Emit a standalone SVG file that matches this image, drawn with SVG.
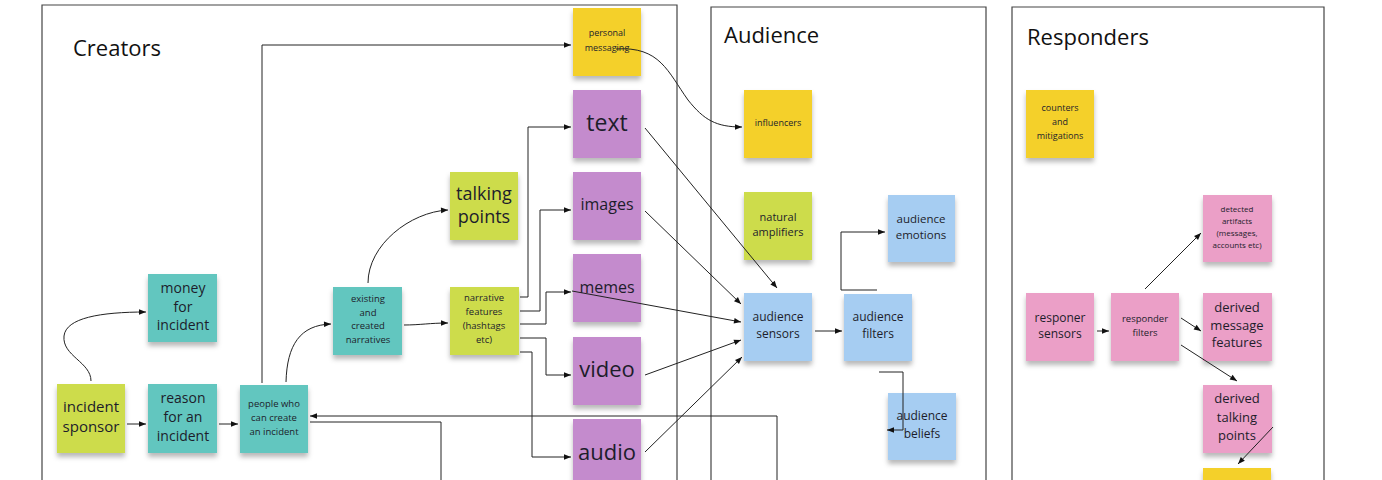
<svg xmlns="http://www.w3.org/2000/svg" width="1382" height="480" viewBox="0 0 1382 480">
<defs>
<filter id="sh" x="-20%" y="-20%" width="140%" height="150%">
<feDropShadow dx="0" dy="4" stdDeviation="2.5" flood-color="#000" flood-opacity="0.28"/>
</filter>
<marker id="ar" viewBox="0 0 10 10" refX="10" refY="5" markerWidth="10" markerHeight="7" markerUnits="userSpaceOnUse" orient="auto">
<path d="M0,1 L10,5 L0,9 z" fill="#111"/>
</marker>
</defs>
<style>
.frame{fill:none;stroke:#444;stroke-width:1.2}
.title{font-family:"Open Sans","Liberation Sans",sans-serif;font-size:22px;fill:#111}
.n rect{filter:url(#sh)}
.n text{font-family:"Open Sans","Liberation Sans",sans-serif;fill:#1d1d2b;text-anchor:middle;dominant-baseline:central}
.teal{fill:#62c6bf}
.green{fill:#cddc4c}
.yellow{fill:#f4d02c}
.purple{fill:#c48bcd}
.blue{fill:#a6cdf2}
.pink{fill:#eb9fc7}
.c path{fill:none;stroke:#222;stroke-width:1}
.c .a{marker-end:url(#ar)}
</style>
<rect width="1382" height="480" fill="#fff"/>
<g id="frames">
<path class="frame" d="M42,481 V5 H677 V481"/>
<path class="frame" d="M711,481 V7 H986 V481"/>
<path class="frame" d="M1012,481 V7 H1324 V481"/>
<text class="title" x="73" y="56">Creators</text>
<text class="title" x="724" y="43">Audience</text>
<text class="title" x="1027" y="45">Responders</text>
</g>
<g id="nodes" class="n">
<g id="money"><rect class="teal" x="148" y="274" width="69" height="68"/><text font-size="14"><tspan x="183" y="287">money</tspan><tspan x="183" y="306">for</tspan><tspan x="183" y="324">incident</tspan></text></g>
<g id="sponsor"><rect class="green" x="57" y="384" width="68" height="69"/><text font-size="15"><tspan x="91" y="406">incident</tspan><tspan x="91" y="426">sponsor</tspan></text></g>
<g id="reason"><rect class="teal" x="148" y="384" width="69" height="69"/><text font-size="14"><tspan x="183" y="397">reason</tspan><tspan x="183" y="416">for an</tspan><tspan x="183" y="435">incident</tspan></text></g>
<g id="people"><rect class="teal" x="240" y="385" width="68" height="68"/><text font-size="9.5"><tspan x="274" y="403">people who</tspan><tspan x="274" y="417">can create</tspan><tspan x="274" y="431">an incident</tspan></text></g>
<g id="narratives"><rect class="teal" x="333" y="287" width="69" height="68"/><text font-size="9.5"><tspan x="368" y="298">existing</tspan><tspan x="368" y="312">and</tspan><tspan x="368" y="325">created</tspan><tspan x="368" y="339">narratives</tspan></text></g>
<g id="talking"><rect class="green" x="450" y="172" width="68" height="68"/><text font-size="18"><tspan x="484" y="193">talking</tspan><tspan x="484" y="216">points</tspan></text></g>
<g id="features"><rect class="green" x="450" y="287" width="69" height="68"/><text font-size="9.5"><tspan x="484" y="297">narrative</tspan><tspan x="484" y="311">features</tspan><tspan x="484" y="325">(hashtags</tspan><tspan x="484" y="339">etc)</tspan></text></g>
<g id="personal"><rect class="yellow" x="573" y="8" width="68" height="68"/><text font-size="9"><tspan x="607" y="32">personal</tspan><tspan x="607" y="47">messaging</tspan></text></g>
<g id="text"><rect class="purple" x="573" y="90" width="68" height="68"/><text x="607" y="122" font-size="23">text</text></g>
<g id="images"><rect class="purple" x="573" y="172" width="68" height="68"/><text x="607" y="204" font-size="16">images</text></g>
<g id="memes"><rect class="purple" x="573" y="254" width="68" height="68"/><text x="607" y="287" font-size="16">memes</text></g>
<g id="video"><rect class="purple" x="573" y="337" width="68" height="68"/><text x="607" y="368" font-size="22">video</text></g>
<g id="audio"><rect class="purple" x="573" y="419" width="68" height="68"/><text x="607" y="451" font-size="22">audio</text></g>
<g id="influencers"><rect class="yellow" x="744" y="90" width="68" height="68"/><text x="778" y="122" font-size="9">influencers</text></g>
<g id="amplifiers"><rect class="green" x="744" y="192" width="68" height="68"/><text font-size="11"><tspan x="778" y="216">natural</tspan><tspan x="778" y="231">amplifiers</tspan></text></g>
<g id="asensors"><rect class="blue" x="744" y="293" width="68" height="68"/><text font-size="12"><tspan x="778" y="316">audience</tspan><tspan x="778" y="333">sensors</tspan></text></g>
<g id="afilters"><rect class="blue" x="844" y="294" width="68" height="67"/><text font-size="12"><tspan x="878" y="316">audience</tspan><tspan x="878" y="333">filters</tspan></text></g>
<g id="emotions"><rect class="blue" x="888" y="195" width="67" height="67"/><text font-size="11.5"><tspan x="921" y="218">audience</tspan><tspan x="921" y="234">emotions</tspan></text></g>
<g id="beliefs"><rect class="blue" x="888" y="393" width="68" height="67"/><text font-size="12"><tspan x="922" y="415">audience</tspan><tspan x="922" y="433">beliefs</tspan></text></g>
<g id="counters"><rect class="yellow" x="1026" y="90" width="68" height="68"/><text font-size="9"><tspan x="1060" y="107">counters</tspan><tspan x="1060" y="121">and</tspan><tspan x="1060" y="135">mitigations</tspan></text></g>
<g id="detected"><rect class="pink" x="1203" y="195" width="69" height="67"/><text font-size="8"><tspan x="1237" y="208">detected</tspan><tspan x="1237" y="220">artifacts</tspan><tspan x="1237" y="232">(messages,</tspan><tspan x="1237" y="244">accounts etc)</tspan></text></g>
<g id="rsensors"><rect class="pink" x="1026" y="293" width="68" height="68"/><text font-size="12"><tspan x="1060" y="317">responer</tspan><tspan x="1060" y="333">sensors</tspan></text></g>
<g id="rfilters"><rect class="pink" x="1111" y="293" width="68" height="68"/><text font-size="9.5"><tspan x="1145" y="318">responder</tspan><tspan x="1145" y="332">filters</tspan></text></g>
<g id="dfeatures"><rect class="pink" x="1203" y="293" width="69" height="68"/><text font-size="13"><tspan x="1237" y="307">derived</tspan><tspan x="1237" y="325">message</tspan><tspan x="1237" y="342">features</tspan></text></g>
<g id="dtalking"><rect class="pink" x="1203" y="385" width="69" height="68"/><text font-size="13"><tspan x="1237" y="398">derived</tspan><tspan x="1237" y="417">talking</tspan><tspan x="1237" y="435">points</tspan></text></g>
<g id="bottomyellow"><rect class="yellow" x="1203" y="468" width="68" height="30"/></g>
</g>
<g id="connectors" class="c">
<path class="a" d="M91,381 C91,362 62,356 64,336 C66,318 100,312 146,312"/>
<path class="a" d="M127,424 H146"/>
<path class="a" d="M219,424 H238"/>
<path class="a" d="M262,383 V45 H571"/>
<path class="a" d="M286,382 C287,345 300,325 331,324"/>
<path class="a" d="M404,325 C420,325 430,323 448,323"/>
<path class="a" d="M368,283 C368,245 410,212 448,210"/>
<path class="a" d="M520,297 H528 V127 H571"/>
<path class="a" d="M520,311 H540 V210 H571"/>
<path class="a" d="M520,324 H546 V292 H571"/>
<path class="a" d="M520,338 H546 V375 H571"/>
<path class="a" d="M520,352 H532 V457 H571"/>
<path class="a" d="M616,49 C660,46 668,72 688,100 C704,120 716,127 742,127"/>
<path class="a" d="M645,128 L777,288"/>
<path class="a" d="M645,211 L741,304"/>
<path class="a" d="M572,291 L741,322"/>
<path class="a" d="M645,375 L741,340"/>
<path class="a" d="M645,452 L742,357"/>
<path class="a" d="M815,331 H842"/>
<path class="a" d="M877,290 H841 V232 H885"/>
<path class="a" d="M879,372 H903 V430 H887"/>
<path class="a" d="M777,481 V416 H310"/>
<path d="M310,422 H441 V481"/>
<path class="a" d="M1097,331 H1109"/>
<path class="a" d="M1145,289 L1201,233"/>
<path class="a" d="M1181,318 L1201,331"/>
<path class="a" d="M1181,345 L1237,381"/>
<path class="a" d="M1273,427 L1238,464"/>
</g>
</svg>
